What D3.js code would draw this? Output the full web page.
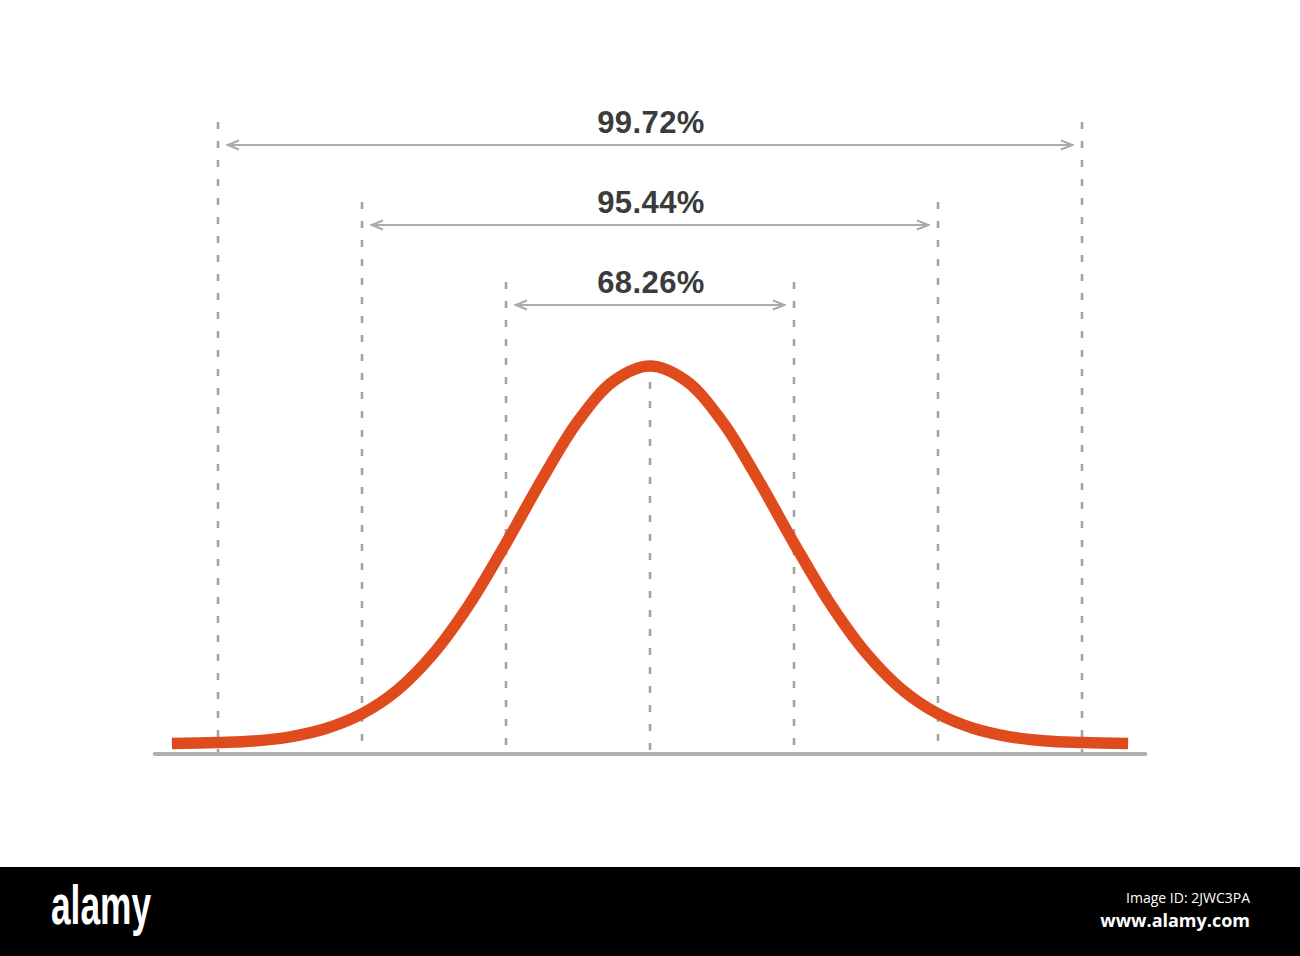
<!DOCTYPE html>
<html>
<head>
<meta charset="utf-8">
<script src="https://cdn.jsdelivr.net/npm/d3@7"></script>
<style>
  html, body { margin: 0; padding: 0; background: #fff; }
  svg { display: block; }
</style>
</head>
<body>
<script>
const width = 1300, height = 956;

// curve: x in sigma units, height relative to the peak
const curve_z = [-3.32, -3, -2.75, -2.5, -2.25, -2, -1.75, -1.5, -1.25, -1, -0.75, -0.5, -0.25, 0,
                 0.25, 0.5, 0.75, 1, 1.25, 1.5, 1.75, 2, 2.25, 2.5, 2.75, 3, 3.32]
const curve_h = [0.001, 0.004, 0.008, 0.019, 0.041, 0.080, 0.144, 0.241, 0.372, 0.531, 0.700, 0.854, 0.961, 1,
                 0.961, 0.854, 0.700, 0.531, 0.372, 0.241, 0.144, 0.080, 0.041, 0.019, 0.008, 0.004, 0.001]

// vertical guides at each sigma
const sigma_marks = [-3, -2, -1, 0, 1, 2, 3]

// brackets: half width in sigma, label
const bracket_k = [3, 2, 1]
const bracket_labels = ['99.72%', '95.44%', '68.26%']

let x = d3.scaleLinear().domain([-3, 3]).range([218, 1082])
let y = d3.scaleLinear().domain([0, 1]).range([744, 366])
let row_y = d3.scaleLinear().domain([3, 1]).range([145, 305])

let svg = d3.select('body').append('svg')
    .attr('width', width)
    .attr('height', height)

svg.append('defs').append('marker')
    .attr('id', 'head')
    .attr('viewBox', '0 0 14 12')
    .attr('refX', 13)
    .attr('refY', 6)
    .attr('markerWidth', 14)
    .attr('markerHeight', 12)
    .attr('markerUnits', 'userSpaceOnUse')
    .attr('orient', 'auto-start-reverse')
    .append('path')
    .attr('d', 'M1,1.5 L12.5,6 L1,10.5')
    .attr('fill', 'none')
    .attr('stroke', '#ababab')
    .attr('stroke-width', 2)

// dashed guides
function guide_top(z) {
    if (z === 0) return 382
    return row_y(Math.abs(z)) - 23
}

svg.append('g')
    .selectAll('line')
    .data(sigma_marks)
    .enter().append('line')
    .attr('x1', d => x(d))
    .attr('x2', d => x(d))
    .attr('y1', d => guide_top(d))
    .attr('y2', 756)
    .attr('stroke', '#a4a4a4')
    .attr('stroke-width', 2.6)
    .attr('stroke-dasharray', '7 12')

// baseline
svg.append('line')
    .attr('x1', x(-3.44))
    .attr('x2', x(3.44))
    .attr('y1', 754)
    .attr('y2', 754)
    .attr('stroke', '#b0b0b0')
    .attr('stroke-width', 4)
    .attr('stroke-linecap', 'round')

// brackets
let br = svg.append('g')
    .selectAll('g')
    .data(bracket_k)
    .enter().append('g')

br.append('line')
    .attr('x1', d => x(-d) + 9)
    .attr('x2', d => x(d) - 9)
    .attr('y1', d => row_y(d))
    .attr('y2', d => row_y(d))
    .attr('stroke', '#ababab')
    .attr('stroke-width', 2.2)
    .attr('marker-start', 'url(#head)')
    .attr('marker-end', 'url(#head)')

br.append('text')
    .attr('x', x(0) + 1)
    .attr('y', d => row_y(d) - 12)
    .attr('text-anchor', 'middle')
    .style('font-family', '"Liberation Sans", Arial, sans-serif')
    .style('font-weight', 'bold')
    .style('font-size', '31px')
    .style('letter-spacing', '0.4px')
    .attr('fill', '#3b3b3b')
    .text((d, i) => bracket_labels[i])

// the curve
let pts = curve_z.map((z, i) => [z, curve_h[i]])
let line = d3.line()
    .x(d => x(d[0]))
    .y(d => y(d[1]))
    .curve(d3.curveCatmullRom)

svg.append('path')
    .attr('d', line(pts))
    .attr('fill', 'none')
    .attr('stroke', '#e04b1e')
    .attr('stroke-width', 11.5)

// footer band
svg.append('rect')
    .attr('x', 0)
    .attr('y', 867)
    .attr('width', width)
    .attr('height', height - 867)
    .attr('fill', '#000')

svg.append('text')
    .attr('x', 51)
    .attr('y', 924)
    .attr('textLength', 100)
    .attr('lengthAdjust', 'spacingAndGlyphs')
    .style('font-family', '"Liberation Sans", Arial, sans-serif')
    .style('font-weight', 'bold')
    .style('font-size', '55px')
    .attr('fill', '#fff')
    .text('alamy')

svg.append('text')
    .attr('x', 1250)
    .attr('y', 903)
    .attr('text-anchor', 'end')
    .style('font-family', '"Open Sans", sans-serif')
    .style('font-size', '14px')
    .attr('fill', '#fff')
    .text('Image ID: 2JWC3PA')

svg.append('text')
    .attr('x', 1250)
    .attr('y', 927)
    .attr('text-anchor', 'end')
    .style('font-family', '"Open Sans", sans-serif')
    .style('font-weight', 'bold')
    .style('font-size', '18px')
    .attr('fill', '#fff')
    .text('www.alamy.com')
</script>
</body>
</html>
